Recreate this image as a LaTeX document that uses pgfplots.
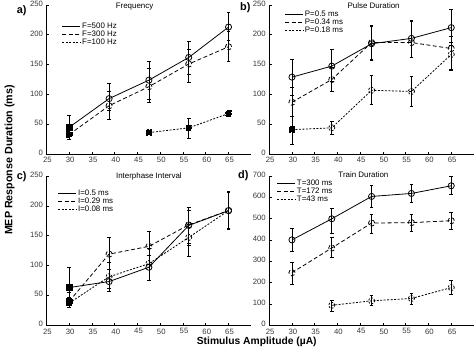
\documentclass[border=0pt]{standalone}
\usepackage{pgfplots}
\pgfplotsset{compat=1.18}
\usepackage{fontspec}
\setmainfont{Liberation Sans}
\begin{document}
\pgfplotsset{
  panel/.style={
    scale only axis, width=206bp, height=150bp,
    axis lines*=left, axis line style={black, line width=0.7pt},
    xmin=25, xmax=70, xtick={25,30,...,65},
    ymin=0,
    tick align=inside, major tick length=2.5bp,
    tick style={black, line width=0.6pt},
    /pgf/number format/assume math mode=true,
    ticklabel style={font=\fontsize{7.8}{8}\selectfont, text=black!78},
    xticklabel style={yshift=0bp, xshift=1bp},
    yticklabel style={xshift=0bp, yshift=1bp},
    legend cell align=left,
    legend image code/.code={\draw[#1, line width=0.8pt] (0bp,0bp) -- (18bp,0bp);},
    legend style={draw=none, fill=none, font=\fontsize{8}{9}\selectfont, inner sep=0pt,
      row sep=-2bp, nodes={inner sep=1.5bp}},
    every axis title/.style={font=\fontsize{8}{9}\selectfont, anchor=center},
    scatter/classes={c={mark=o, mark size=3.1pt, black, mark options={solid, line width=0.6pt}}, s={mark=square*, mark size=2.8pt, black, mark options={solid}}},
    error bars/y dir=both, error bars/y explicit,
    error bars/error bar style={solid, line width=0.7pt, black},
    error bars/error mark options={solid, mark size=1.8pt, line width=0.7pt, black, rotate=90},
  },
  s1/.style={black, solid, line width=0.8pt},
  s2/.style={black, dash pattern=on 4bp off 2.5bp, line width=0.8pt},
  s3/.style={black, dash pattern=on 2bp off 1.5bp, line width=0.8pt},
  dat/.style={scatter, scatter src=explicit symbolic, forget plot},
}
% columns: x y ep em class
\pgfplotstableread{
x y ep em c
30 45 20 15 s
38.75 93 25 20 c
47.5 124 31 32 c
56.25 162 27 28 c
65 213 25 23 c
}\aA
\pgfplotstableread{
x y ep em c
30 33 10 9 s
38.75 81 25 23 c
47.5 113 30 27 c
56.25 151 25 30 c
65 180 25 25 c
}\aB
\pgfplotstableread{
x y ep em c
47.5 36 3 3 s
56.25 44 16 17 s
65 68 5 5 s
}\aC
\pgfplotstableread{
x y ep em c
30 129 30 30 c
38.75 147.5 28 25 c
47.5 185 30 28 c
56.25 194 31 32 c
65 212 31 30 c
}\bA
\pgfplotstableread{
x y ep em c
30 87 25 23 c
38.75 125 20 20 c
47.5 187 27 28 c
56.25 187 35 25 c
65 177 20 37 c
}\bB
\pgfplotstableread{
x y ep em c
30 41 22 25 s
38.75 44 11 11 c
47.5 107 25 24 c
56.25 105 25 25 c
65 167 20 25 c
}\bC
\pgfplotstableread{
x y ep em c
30 63 34 20 s
38.75 73 20 17 c
47.5 97 20 22 c
56.25 167 31 30 c
65 192 32 31 c
}\cA
\pgfplotstableread{
x y ep em c
30 40 15 10 s
38.75 119 28 25 c
47.5 132 26 30 c
56.25 168 25 35 c
65 192 30 30 c
}\cB
\pgfplotstableread{
x y ep em c
30 37 10 8 s
38.75 81 25 20 c
47.5 103 25 28 c
56.25 147 22 32 c
65 192 30 30 c
}\cC
\pgfplotstableread{
x y ep em c
30 400 54 55 c
38.75 499 48 66 c
47.5 604 50 52 c
56.25 618 42 40 c
65 654 43 40 c
}\dA
\pgfplotstableread{
x y ep em c
30 246 49 56 c
38.75 362 49 44 c
47.5 479 42 48 c
56.25 481 41 41 c
65 490 37 40 c
}\dB
\pgfplotstableread{
x y ep em c
38.75 93 23 27 c
47.5 114 25 20 c
56.25 125 25 26 c
65 176 33 31 c
}\dC
\begin{tikzpicture}[x=1bp,y=1bp]
\path[use as bounding box] (0,0) rectangle (474,355);
% a
\begin{axis}[panel, at={(44bp,200bp)}, anchor=south west, ymax=250, ytick={0,50,...,250},
  title={Frequency}, title style={at={(0.43,1)}, yshift=-2bp},
  legend style={at={(0.075,0.89)}, anchor=north west}]
\addlegendimage{s1}\addlegendentry{F=500 Hz}
\addlegendimage{s2}\addlegendentry{F=300 Hz}
\addlegendimage{s3}\addlegendentry{F=100 Hz}
\addplot[s1, dat] table[x=x, y=y, y error plus=ep, y error minus=em, meta=c] {\aA};
\addplot[s2, dat] table[x=x, y=y, y error plus=ep, y error minus=em, meta=c] {\aB};
\addplot[s3, dat] table[x=x, y=y, y error plus=ep, y error minus=em, meta=c] {\aC};
\end{axis}
% b
\begin{axis}[panel, at={(268bp,200bp)}, anchor=south west, ymax=250, ytick={0,50,...,250},
  title={Pulse Duration}, title style={at={(0.51,1)}, yshift=-1bp},
  legend style={at={(0.075,0.97)}, anchor=north west}]
\addlegendimage{s1}\addlegendentry{P=0.5 ms}
\addlegendimage{s2}\addlegendentry{P=0.34 ms}
\addlegendimage{s3}\addlegendentry{P=0.18 ms}
\addplot[s1, dat] table[x=x, y=y, y error plus=ep, y error minus=em, meta=c] {\bA};
\addplot[s2, dat] table[x=x, y=y, y error plus=ep, y error minus=em, meta=c] {\bB};
\addplot[s3, dat] table[x=x, y=y, y error plus=ep, y error minus=em, meta=c] {\bC};
\end{axis}
% c
\begin{axis}[panel, at={(44bp,28bp)}, anchor=south west, ymax=250, ytick={0,50,...,250},
  title={Interphase Interval}, title style={at={(0.5,1)}, yshift=0bp},
  legend style={at={(0.055,0.92)}, anchor=north west}]
\addlegendimage{s1}\addlegendentry{I=0.5 ms}
\addlegendimage{s2}\addlegendentry{I=0.29 ms}
\addlegendimage{s3}\addlegendentry{I=0.08 ms}
\addplot[s1, dat] table[x=x, y=y, y error plus=ep, y error minus=em, meta=c] {\cA};
\addplot[s2, dat] table[x=x, y=y, y error plus=ep, y error minus=em, meta=c] {\cB};
\addplot[s3, dat] table[x=x, y=y, y error plus=ep, y error minus=em, meta=c] {\cC};
\end{axis}
% d
\begin{axis}[panel, at={(268bp,28bp)}, anchor=south west, ymax=700, ytick={0,100,...,700},
  title={Train Duration}, title style={at={(0.46,1)}, yshift=1bp},
  legend style={at={(0.036,0.985)}, anchor=north west}]
\addlegendimage{s1}\addlegendentry{T=300 ms}
\addlegendimage{s2}\addlegendentry{T=172 ms}
\addlegendimage{s3}\addlegendentry{T=43 ms}
\addplot[s1, dat] table[x=x, y=y, y error plus=ep, y error minus=em, meta=c] {\dA};
\addplot[s2, dat] table[x=x, y=y, y error plus=ep, y error minus=em, meta=c] {\dB};
\addplot[s3, dat] table[x=x, y=y, y error plus=ep, y error minus=em, meta=c] {\dC};
\end{axis}
\node[font=\bfseries\fontsize{11}{12}\selectfont] at (19,344) {a)};
\node[font=\bfseries\fontsize{11}{12}\selectfont] at (244,347) {b)};
\node[font=\bfseries\fontsize{11}{12}\selectfont] at (19,177) {c)};
\node[font=\bfseries\fontsize{11}{12}\selectfont] at (242,178) {d)};
\node[rotate=90, font=\bfseries\fontsize{10.8}{12}\selectfont] at (7,194) {MEP Response Duration (ms)};
\node[font=\bfseries\fontsize{10.4}{12}\selectfont] at (255.5,11) {Stimulus Amplitude (µA)};
\end{tikzpicture}
\end{document}
